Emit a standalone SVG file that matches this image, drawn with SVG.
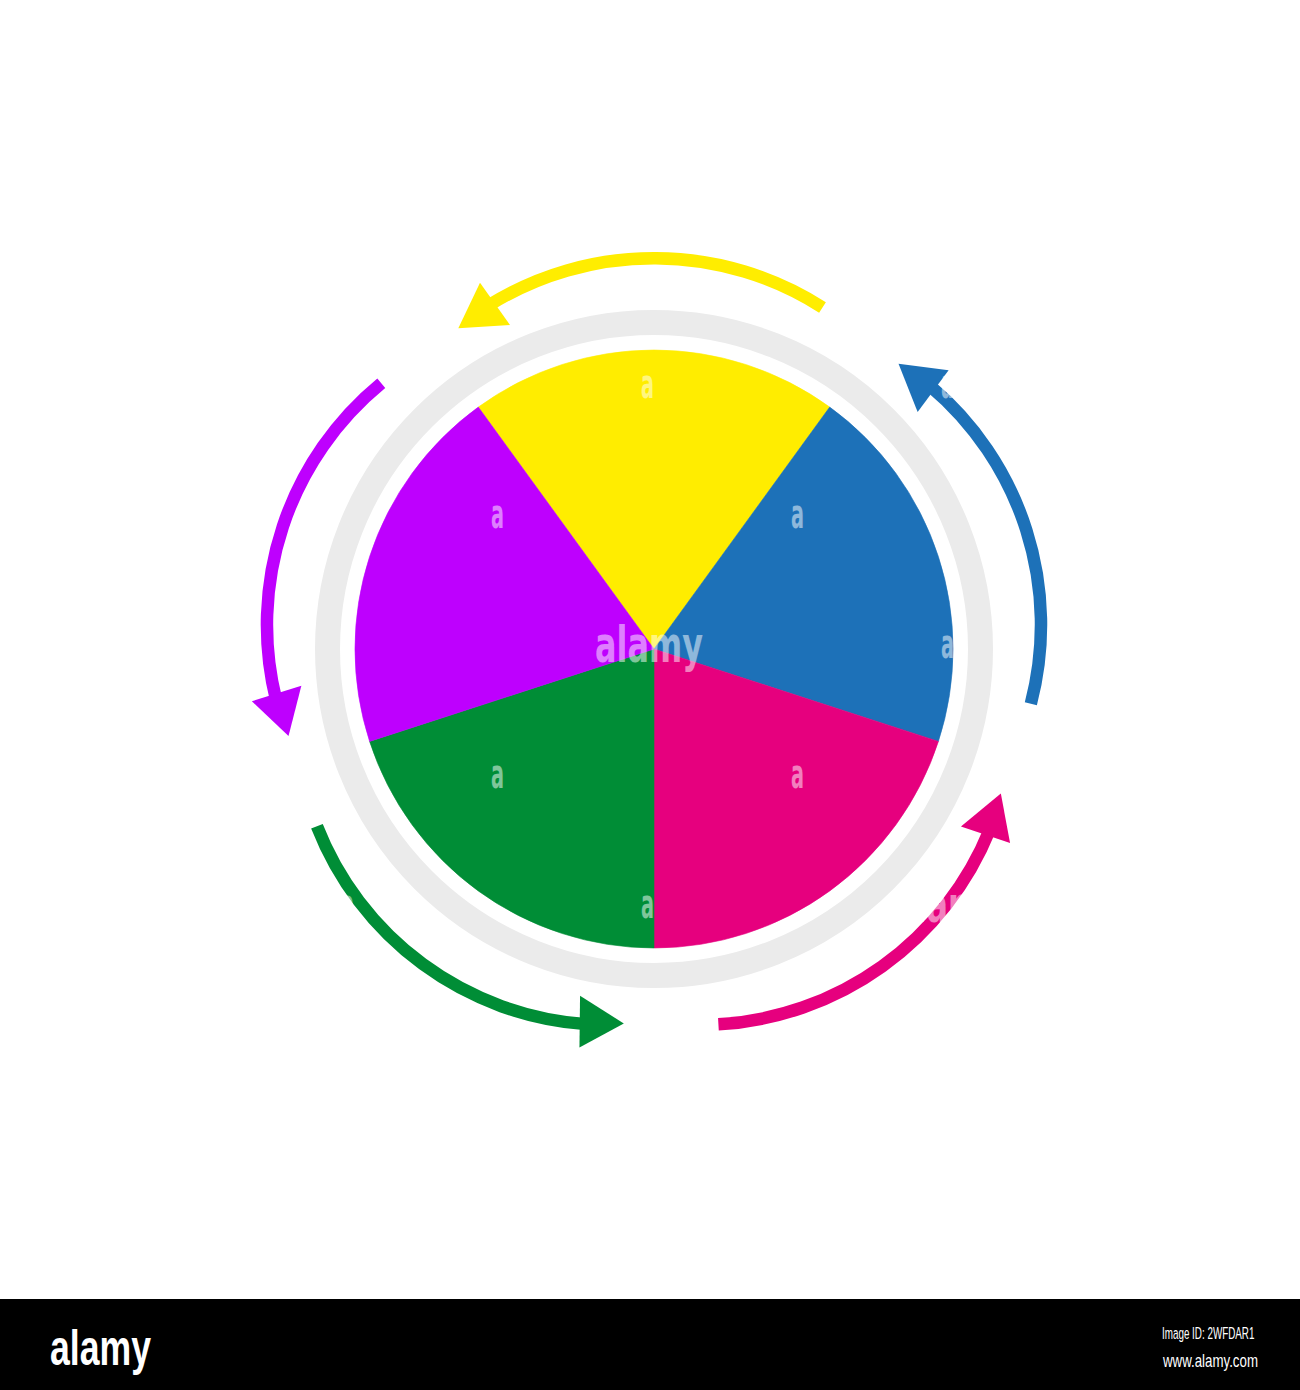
<svg xmlns="http://www.w3.org/2000/svg" width="1300" height="1390" viewBox="0 0 1300 1390">
  <style>
    .yellow{fill:#FFED00;stroke:#FFED00}
    .blue{fill:#1D71B8;stroke:#1D71B8}
    .pink{fill:#E6007E;stroke:#E6007E}
    .green{fill:#008D36;stroke:#008D36}
    .purple{fill:#BE00FE;stroke:#BE00FE}
    .seg{stroke-width:0.6}
    .shaft{fill:none;stroke-width:12.5}
    .head{stroke:none}
    .wm{fill:#ffffff;fill-opacity:0.5;font-family:"DejaVu Sans Condensed","DejaVu Sans",sans-serif;font-weight:bold}
    .foot{fill:#ffffff;font-family:"Liberation Sans",Arial,sans-serif}
  </style>
  <rect x="0" y="0" width="1300" height="1390" fill="#ffffff"/>

  <g id="ring">
    <circle cx="654" cy="649" r="326.5" fill="none" stroke="#EBEBEB" stroke-width="25"/>
  </g>

  <g id="segment-yellow"><path class="seg yellow" d="M654,649 L478.3,407.1 A299,299 0 0 1 829.7,407.1 Z"/></g>
  <g id="segment-blue"><path class="seg blue" d="M654,649 L829.7,407.1 A299,299 0 0 1 938.4,741.4 Z"/></g>
  <g id="segment-pink"><path class="seg pink" d="M654,649 L938.4,741.4 A299,299 0 0 1 654,948 Z"/></g>
  <g id="segment-green"><path class="seg green" d="M654,649 L654,948 A299,299 0 0 1 369.6,741.4 Z"/></g>
  <g id="segment-purple"><path class="seg purple" d="M654,649 L369.6,741.4 A299,299 0 0 1 478.3,407.1 Z"/></g>

  <g id="connectors">
    <g id="arrow-yellow" class="yellow">
      <path class="shaft" d="M822.5,307.5 A312.5,312.5 0 0 0 488.7,305.4"/>
      <polygon class="head" points="480,282.7 458.3,328.3 510,325"/>
    </g>
    <g id="arrow-purple" class="purple" transform="rotate(-72 654 649)">
      <path class="shaft" d="M822.5,307.5 A312.5,312.5 0 0 0 488.7,305.4"/>
      <polygon class="head" points="480,282.7 458.3,328.3 510,325"/>
    </g>
    <g id="arrow-green" class="green" transform="rotate(216 654 649)">
      <path class="shaft" d="M822.5,307.5 A312.5,312.5 0 0 0 488.7,305.4"/>
      <polygon class="head" points="480,282.7 458.3,328.3 510,325"/>
    </g>
    <g id="arrow-pink" class="pink" transform="rotate(144 654 649)">
      <path class="shaft" d="M822.5,307.5 A312.5,312.5 0 0 0 488.7,305.4"/>
      <polygon class="head" points="480,282.7 458.3,328.3 510,325"/>
    </g>
    <g id="arrow-blue" class="blue" transform="rotate(72 654 649)">
      <path class="shaft" d="M822.5,307.5 A312.5,312.5 0 0 0 488.7,305.4"/>
      <polygon class="head" points="480,282.7 458.3,328.3 510,325"/>
    </g>
  </g>

  <g id="watermark">
    <text class="wm" x="641" y="398" font-size="40" textLength="13" lengthAdjust="spacingAndGlyphs">a</text>
    <text class="wm" x="491" y="528" font-size="40" textLength="13" lengthAdjust="spacingAndGlyphs">a</text>
    <text class="wm" x="791" y="528" font-size="40" textLength="13" lengthAdjust="spacingAndGlyphs">a</text>
    <text class="wm" x="941" y="658" font-size="40" textLength="13" lengthAdjust="spacingAndGlyphs">a</text>
    <text class="wm" x="491" y="788" font-size="40" textLength="13" lengthAdjust="spacingAndGlyphs">a</text>
    <text class="wm" x="791" y="788" font-size="40" textLength="13" lengthAdjust="spacingAndGlyphs">a</text>
    <text class="wm" x="641" y="918" font-size="40" textLength="13" lengthAdjust="spacingAndGlyphs">a</text>
    <text class="wm" x="341" y="918" font-size="40" textLength="13" lengthAdjust="spacingAndGlyphs">a</text>
    <text class="wm" x="941" y="398" font-size="40" textLength="13" lengthAdjust="spacingAndGlyphs">a</text>
    <text class="wm" x="595" y="662" font-size="50" textLength="108" lengthAdjust="spacingAndGlyphs">alamy</text>
    <text class="wm" x="894" y="922" font-size="50" textLength="108" lengthAdjust="spacingAndGlyphs">alamy</text>
  </g>

  <g id="footer">
    <rect x="0" y="1299" width="1300" height="91" fill="#000000"/>
    <text class="foot" x="50" y="1365" font-size="50" font-weight="bold" font-family="'DejaVu Sans Condensed','DejaVu Sans',sans-serif" textLength="101" lengthAdjust="spacingAndGlyphs">alamy</text>
    <text class="foot" transform="translate(1162,1339) scale(0.58,1)" x="0" y="0" font-size="17">Image ID: 2WFDAR1</text>
    <text class="foot" transform="translate(1163,1367) scale(0.7,1)" x="0" y="0" font-size="19">www.alamy.com</text>
  </g>
</svg>
